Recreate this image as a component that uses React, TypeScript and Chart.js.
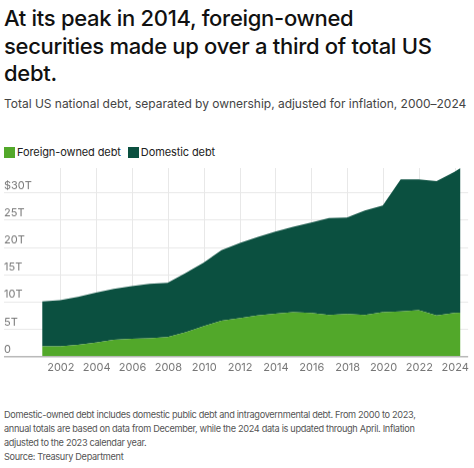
import { useEffect, useRef } from "react"
import { Chart, registerables, type ChartConfiguration } from "chart.js"

Chart.register(...registerables)

// Year-end totals (Dec) in trillions of 2023 dollars; the last point is April 2024
const years = [
  2000, 2001, 2002, 2003, 2004, 2005, 2006, 2007, 2008, 2009, 2010, 2011, 2012,
  2013, 2014, 2015, 2016, 2017, 2018, 2019, 2020, 2021, 2022, 2023, 2024,
]
const months = [
  12, 12, 12, 12, 12, 12, 12, 12, 12, 12, 12, 12, 12,
  12, 12, 12, 12, 12, 12, 12, 12, 12, 12, 12, 4,
]
const foreignDebt = [
  1.8, 1.8, 2.1, 2.5, 3.0, 3.2, 3.3, 3.5, 4.4, 5.5, 6.5, 7.0, 7.5,
  7.8, 8.1, 7.95, 7.6, 7.75, 7.6, 8.1, 8.25, 8.45, 7.5, 7.95, 8.0,
]
const domesticDebt = [
  8.3, 8.5, 8.8, 9.2, 9.4, 9.7, 10.0, 10.0, 10.9, 11.7, 13.0, 13.8, 14.4,
  15.1, 15.7, 16.65, 17.8, 17.75, 19.2, 19.6, 24.25, 24.05, 24.7, 25.95, 26.6,
]
const xTickYears = [2002, 2004, 2006, 2008, 2010, 2012, 2014, 2016, 2018, 2020, 2022, 2024]
const yTickValues = [0, 5, 10, 15, 20, 25, 30]

const FONT = "Inter, 'Noto Sans', sans-serif"
const LIGHT_GREEN = "#52a82a"
const DARK_GREEN = "#0b5040"

const toPoints = (values: number[]) =>
  values.map((v, i) => ({ x: years[i] + (months[i] - 0.5) / 12, y: v }))

const DebtChart = () => {
  const canvasRef = useRef<HTMLCanvasElement>(null)

  useEffect(() => {
    if (!canvasRef.current) return

    const config: ChartConfiguration<"line"> = {
      type: "line",
      data: {
        datasets: [
          {
            label: "Foreign-owned debt",
            data: toPoints(foreignDebt),
            backgroundColor: LIGHT_GREEN,
            borderWidth: 0,
            pointRadius: 0,
            fill: "origin",
          },
          {
            label: "Domestic debt",
            data: toPoints(domesticDebt),
            backgroundColor: DARK_GREEN,
            borderWidth: 0,
            pointRadius: 0,
            fill: "-1",
          },
        ],
      },
      options: {
        animation: false,
        responsive: true,
        maintainAspectRatio: false,
        layout: { padding: { left: 4, right: 4, top: 8, bottom: 3 } },
        plugins: { legend: { display: false }, tooltip: { enabled: false } },
        scales: {
          x: {
            type: "linear",
            min: 1998.83,
            max: 2024.72,
            afterBuildTicks: (scale) => {
              scale.ticks = xTickYears.map((v) => ({ value: v }))
            },
            grid: { color: "#e8e8e8", drawTicks: false },
            border: { display: false },
            ticks: {
              autoSkip: false,
              maxRotation: 0,
              padding: 5,
              color: "#777",
              font: { family: FONT, size: 11 },
              callback: (v) => String(v),
            },
          },
          y: {
            stacked: true,
            min: 0,
            max: 34.6,
            afterBuildTicks: (scale) => {
              scale.ticks = yTickValues.map((v) => ({ value: v }))
            },
            grid: {
              color: (ctx) => (ctx.tick && ctx.tick.value === 0 ? "#b8b8b8" : "#e8e8e8"),
              lineWidth: (ctx) => (ctx.tick && ctx.tick.value === 0 ? 1.5 : 1),
              drawTicks: false,
            },
            border: { display: false },
            ticks: {
              mirror: true,
              padding: 0,
              labelOffset: -7,
              color: "#777",
              font: { family: FONT, size: 11 },
              callback: (v) => (v === 0 ? "0" : v === 30 ? "$30T" : `${v}T`),
            },
          },
        },
      },
    }

    const chart = new Chart(canvasRef.current, config)
    return () => chart.destroy()
  }, [])

  return (
    <div style={{ position: "absolute", left: 0, top: 160, width: 474, height: 221.5 }}>
      <canvas ref={canvasRef}></canvas>
    </div>
  )
}

const LegendItem = ({ color, label }: { color: string; label: string }) => (
  <span style={{ display: "inline-flex", alignItems: "center", marginRight: 7 }}>
    <span style={{ width: 11, height: 11, background: color, marginRight: 2, display: "inline-block" }} />
    <span>{label}</span>
  </span>
)

export default function App() {
  return (
    <div
      style={{
        position: "absolute",
        left: 0,
        top: 0,
        width: 474,
        height: 468,
        background: "#fff",
        fontFamily: FONT,
        overflow: "hidden",
      }}
    >
      <div
        style={{
          position: "absolute",
          left: 4,
          top: 5,
          fontSize: 22,
          lineHeight: "27.5px",
          fontWeight: 500,
          color: "#111",
          whiteSpace: "nowrap",
          letterSpacing: -0.3,
        }}
      >
        At its peak in 2014, foreign-owned
        <br />
        securities made up over a third of total US
        <br />
        debt.
      </div>
      <div
        style={{
          position: "absolute",
          left: 4,
          top: 96,
          fontSize: 12,
          lineHeight: "16px",
          color: "#444",
          whiteSpace: "nowrap",
          letterSpacing: -0.02,
        }}
      >
        Total US national debt, separated by ownership, adjusted for inflation, 2000–2024
      </div>
      <div
        style={{
          position: "absolute",
          left: 4,
          top: 144,
          fontSize: 11,
          lineHeight: "16px",
          color: "#222",
          whiteSpace: "nowrap",
          letterSpacing: -0.1,
          display: "flex",
        }}
      >
        <LegendItem color={LIGHT_GREEN} label="Foreign-owned debt" />
        <LegendItem color={DARK_GREEN} label="Domestic debt" />
      </div>
      <DebtChart />
      <div
        style={{
          position: "absolute",
          left: 4,
          top: 408,
          fontSize: 9.2,
          lineHeight: "14px",
          color: "#555",
          whiteSpace: "nowrap",
          letterSpacing: -0.33,
        }}
      >
        Domestic-owned debt includes domestic public debt and intragovernmental debt. From 2000 to 2023,
        <br />
        annual totals are based on data from December, while the 2024 data is updated through April. Inflation
        <br />
        adjusted to the 2023 calendar year.
        <br />
        Source: Treasury Department
      </div>
    </div>
  )
}
